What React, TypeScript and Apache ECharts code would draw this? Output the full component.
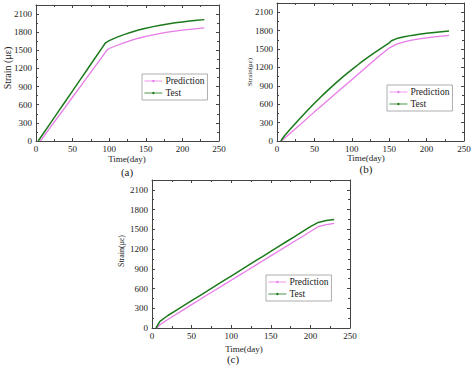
import React, { useEffect, useRef } from "react";
import * as echarts from "echarts";

// Panel (a)
const testADays = [3, 10, 20, 30, 40, 50, 60, 70, 80, 90, 95, 100, 110, 120, 130, 140, 150, 160, 170, 180, 190, 200, 210, 220, 230];
const testAVals = [0, 124, 300, 477, 654, 830, 1007, 1183, 1360, 1537, 1625, 1660, 1715, 1760, 1800, 1835, 1865, 1892, 1916, 1937, 1955, 1970, 1984, 1996, 2008];
const predADays = [6, 10, 20, 30, 40, 50, 60, 70, 80, 90, 97, 100, 110, 120, 130, 140, 150, 160, 170, 180, 190, 200, 210, 220, 230];
const predAVals = [0, 66, 232, 397, 562, 728, 893, 1058, 1224, 1389, 1505, 1530, 1580, 1625, 1665, 1700, 1730, 1757, 1780, 1800, 1818, 1834, 1848, 1860, 1872];

// Panel (b)
const testBDays = [5, 10, 20, 30, 40, 50, 60, 70, 80, 90, 100, 110, 120, 130, 140, 150, 153, 160, 170, 180, 190, 200, 210, 220, 230];
const testBVals = [0, 85, 225, 360, 490, 615, 735, 850, 960, 1065, 1165, 1260, 1350, 1438, 1520, 1600, 1635, 1670, 1700, 1722, 1740, 1755, 1768, 1780, 1792];
const predBDays = [6, 10, 20, 30, 40, 50, 60, 70, 80, 90, 100, 110, 120, 130, 140, 150, 153, 160, 170, 180, 190, 200, 210, 220, 230];
const predBVals = [0, 45, 150, 255, 365, 475, 580, 685, 790, 895, 1000, 1105, 1210, 1315, 1420, 1515, 1535, 1580, 1615, 1643, 1665, 1682, 1697, 1710, 1722];

// Panel (c)
const testCDays = [5, 10, 20, 30, 40, 50, 60, 70, 80, 90, 100, 110, 120, 130, 140, 150, 160, 170, 180, 190, 200, 210, 220, 230];
const testCVals = [0, 100, 190, 265, 340, 415, 490, 565, 640, 715, 790, 865, 940, 1015, 1090, 1165, 1240, 1315, 1390, 1465, 1540, 1605, 1635, 1650];
const predCDays = [6, 10, 20, 30, 40, 50, 60, 70, 80, 90, 100, 110, 120, 130, 140, 150, 160, 170, 180, 190, 200, 210, 220, 230];
const predCVals = [0, 50, 130, 205, 280, 355, 430, 505, 578, 652, 726, 800, 875, 948, 1022, 1096, 1170, 1244, 1318, 1392, 1466, 1540, 1570, 1590];

const seriesNames = ["Prediction", "Test"];
const xTitle = "Time(day)";
const yTitleA = "Strain (\u03bc\u03b5)";
const yTitleBC = "Strain(\u03bc\u03b5)";
const captions = ["(a)", "(b)", "(c)"];

const FONT = "'Liberation Serif', 'DejaVu Serif', serif";
const AX = "#444";
const PRED_COLOR = "#e77be7";
const TEST_COLOR = "#1c7a1c";

const pair = (d: number[], v: number[]) => d.map((x, i) => [x, v[i]]);

export default function App() {
  const ref = useRef<HTMLDivElement>(null);
  useEffect(() => {
    if (!ref.current) return;
    const chart = echarts.init(ref.current, null, { renderer: "svg" });
    const grids = [
      { left: 36, top: 5, width: 183, height: 136 },
      { left: 277, top: 3, width: 187, height: 138 },
      { left: 152, top: 180, width: 198, height: 148 },
    ];
    const xAxes: any[] = [];
    const yAxes: any[] = [];
    grids.forEach((_, g) => {
      const common = {
        gridIndex: g,
        type: "value",
        axisLine: { show: true, onZero: false, lineStyle: { color: AX, width: 1 } },
        axisTick: { show: true, inside: true, length: 3, lineStyle: { color: AX } },
        minorTick: { show: true, splitNumber: 2, length: 2, lineStyle: { color: AX } },
        splitLine: { show: false },
      };
      xAxes.push({
        ...common,
        position: "bottom",
        min: 0,
        max: 250,
        interval: 50,
        axisLabel: { show: true, margin: 3, fontFamily: FONT, fontSize: 9, color: "#222" },
      });
      xAxes.push({
        ...common,
        position: "top",
        min: 0,
        max: 250,
        interval: 50,
        axisLabel: { show: false },
      });
      yAxes.push({
        ...common,
        position: "left",
        min: 0,
        max: 2250,
        interval: 300,
        axisLabel: {
          show: true,
          margin: 4,
          fontFamily: FONT,
          fontSize: 9,
          color: "#222",
          formatter: (v: number) => (v % 300 === 0 ? String(v) : ""),
        },
      });
      yAxes.push({
        ...common,
        position: "right",
        min: 0,
        max: 2250,
        interval: 300,
        axisLabel: { show: false },
      });
    });
    const data = [
      [pair(predADays, predAVals), pair(testADays, testAVals)],
      [pair(predBDays, predBVals), pair(testBDays, testBVals)],
      [pair(predCDays, predCVals), pair(testCDays, testCVals)],
    ];
    const series: any[] = [];
    data.forEach((d, g) => {
      series.push({
        name: seriesNames[0],
        type: "line",
        xAxisIndex: g * 2,
        yAxisIndex: g * 2,
        data: d[0],
        symbol: "circle",
        symbolSize: 2,
        showSymbol: false,
        lineStyle: { color: PRED_COLOR, width: 1.3 },
        itemStyle: { color: PRED_COLOR },
      });
      series.push({
        name: seriesNames[1],
        type: "line",
        xAxisIndex: g * 2,
        yAxisIndex: g * 2,
        data: d[1],
        symbol: "circle",
        symbolSize: 2,
        showSymbol: false,
        lineStyle: { color: TEST_COLOR, width: 1.5 },
        itemStyle: { color: TEST_COLOR },
      });
    });
    const legendPos = [
      { left: 142, top: 74 },
      { left: 387, top: 85 },
      { left: 266, top: 275 },
    ];
    const legends = legendPos.map((p) => ({
      ...p,
      orient: "vertical",
      data: seriesNames,
      itemWidth: 18,
      itemHeight: 3,
      itemGap: 2,
      padding: [2, 3, 2, 2],
      borderColor: "#999",
      borderWidth: 0.8,
      selectedMode: false,
      lineStyle: { width: 0.8 },
      textStyle: { fontFamily: FONT, fontSize: 9.5, color: "#222", padding: [0, 0, 0, -2] },
    }));
    const txt = (text: string, x: number, y: number, size: number, rot = 0) => ({
      type: "text",
      x,
      y,
      rotation: rot,
      style: {
        text,
        font: `${size}px ${FONT}`,
        fill: "#222",
        textAlign: "center",
        textVerticalAlign: "middle",
      },
    });
    const graphic = [
      txt(xTitle, 127, 159, 9),
      txt(xTitle, 366, 158, 9),
      txt(xTitle, 244, 349, 9),
      txt(captions[0], 127, 172, 11),
      txt(captions[1], 366, 169, 11),
      txt(captions[2], 233, 359, 11),
      txt(yTitleA, 7, 68, 10, Math.PI / 2),
      txt(yTitleBC, 250, 72, 7, Math.PI / 2),
      txt(yTitleBC, 121, 251, 8, Math.PI / 2),
    ];
    chart.setOption({
      animation: false,
      backgroundColor: "#fff",
      grid: grids.map((g) => ({ ...g, containLabel: false })),
      xAxis: xAxes,
      yAxis: yAxes,
      series,
      legend: legends,
      graphic,
    });
    return () => chart.dispose();
  }, []);
  return (
    <div
      ref={ref}
      style={{ position: "fixed", left: 0, top: 0, width: 474, height: 368, background: "#fff" }}
    />
  );
}
